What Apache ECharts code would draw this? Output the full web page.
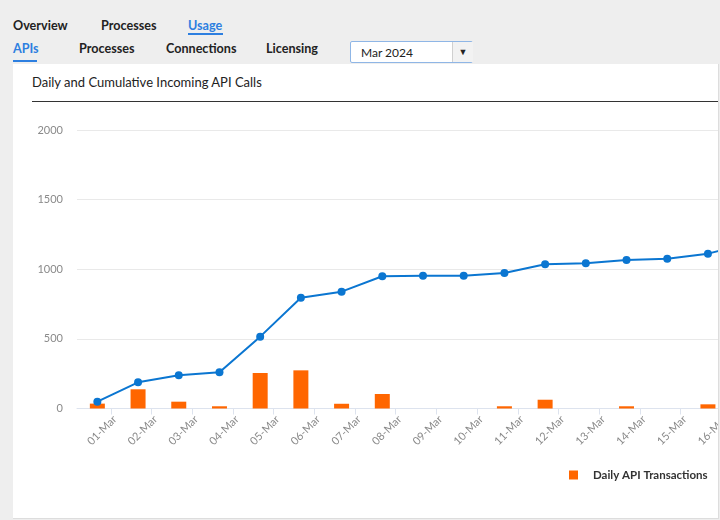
<!DOCTYPE html>
<html>
<head>
<meta charset="utf-8">
<script src="https://cdn.jsdelivr.net/npm/echarts@6/dist/echarts.min.js"></script>
<style>
  html, body { margin: 0; padding: 0; background: #eeeeee; font-family: Lato, "Noto Sans", sans-serif; }
  #page { position: relative; width: 720px; height: 520px; overflow: hidden; }
  .tab { position: absolute; font-size: 12.6px; font-weight: bold; color: #222; line-height: 16px; }
  .tab.on { color: #2d7fe0; }
  .bar-on { position: absolute; height: 2px; background: #2d7fe0; }
  #month { position: absolute; left: 350px; top: 41px; width: 121px; height: 20px; background: #fff;
           border: 1px solid #8fb6e6; border-radius: 2px; font-size: 12px; color: #222; }
  #month span { position: absolute; left: 10px; top: 3px; }
  #month .drop { position: absolute; left: 101px; top: 0; width: 20px; height: 20px; background: #f2f2f2;
                 border-left: 1px solid #d0d0d0; font-size: 9px; text-align: center; line-height: 20px; color: #222; }
  #card { position: absolute; left: 13px; top: 64px; width: 705px; height: 454px; background: #fff;
          overflow: hidden; border-right: 1px solid #dddddd; border-bottom: 1px solid #dddddd; }
  #card .title { position: absolute; left: 19px; top: 10px; font-size: 13px; color: #222; }
  #card .rule { position: absolute; left: 19px; top: 37px; width: 700px; height: 1px; background: #333; }
  #chart { position: absolute; left: 0; top: 38px; width: 1000px; height: 416px; }
</style>
</head>
<body>
<div id="page">
  <div class="tab" style="left:13px;top:18px;">Overview</div>
  <div class="tab" style="left:101px;top:18px;">Processes</div>
  <div class="tab on" style="left:188px;top:18px;">Usage</div>
  <div class="bar-on" style="left:188px;top:33px;width:35px;"></div>
  <div class="tab on" style="left:13px;top:41px;">APIs</div>
  <div class="bar-on" style="left:13px;top:60px;width:24px;"></div>
  <div class="tab" style="left:79px;top:41px;">Processes</div>
  <div class="tab" style="left:166px;top:41px;">Connections</div>
  <div class="tab" style="left:266px;top:41px;">Licensing</div>
  <div id="month"><span>Mar 2024</span><div class="drop">&#9660;</div></div>
  <div id="card">
    <div class="title">Daily and Cumulative Incoming API Calls</div>
    <div class="rule"></div>
    <div id="chart"></div>
  </div>
</div>
<script>
// days of March shown (the chart is wider than the card and gets cut at the right)
var days = ['01-Mar', '02-Mar', '03-Mar', '04-Mar', '05-Mar', '06-Mar', '07-Mar', '08-Mar', '09-Mar',
            '10-Mar', '11-Mar', '12-Mar', '13-Mar', '14-Mar', '15-Mar', '16-Mar', '17-Mar'];
var dailyCalls = [35, 138, 49, 16, 255, 274, 34, 104, 0, 0, 16, 63, 0, 16, 0, 30, 70];
var cumulativeCalls = [49, 188, 238, 260, 516, 796, 839, 950, 954, 954, 973, 1036, 1043, 1067, 1076, 1112, 1185];
var yTicks = [0, 500, 1000, 1500, 2000];

var font = 'Lato, "Noto Sans", sans-serif';
var axisGrey = '#dde3ee';

// tick marks and labels sit a bit right of the category centres, like the original
var tickPos = days.map(function (d, i) { return i + 0.33; });
var labelPos = days.map(function (d, i) { return i + 0.43; });

var myChart = echarts.init(document.getElementById('chart'));
var option = {
  animation: false,
  textStyle: { fontFamily: font },
  grid: { left: 64, top: 28, width: 692, height: 278.5, containLabel: false },
  legend: {
    data: ['Daily API Transactions'],
    left: 551, top: 362,
    icon: 'rect', itemWidth: 9, itemHeight: 9,
    textStyle: { fontFamily: font, fontSize: 11.5, fontWeight: 'bold', color: '#333', padding: [0, 0, 0, 10] }
  },
  xAxis: [
    {
      type: 'category',
      data: days,
      show: false,
      boundaryGap: true
    },
    {
      type: 'value',
      position: 'bottom',
      min: -0.5,
      max: days.length - 0.5,
      splitLine: { show: false },
      axisLine: { show: true, onZero: false, lineStyle: { color: axisGrey, width: 1 } },
      axisTick: { show: true, length: 6, lineStyle: { color: axisGrey }, customValues: tickPos },
      axisLabel: {
        customValues: labelPos,
        rotate: 45, margin: 9,
        color: '#8a8a8a', fontSize: 11, fontFamily: font,
        formatter: function (v) { return days[Math.floor(v)]; }
      }
    }
  ],
  yAxis: {
    type: 'value',
    min: yTicks[0], max: yTicks[yTicks.length - 1], interval: 500,
    axisLine: { show: false },
    axisTick: { show: false },
    splitLine: { lineStyle: { color: '#e9e9e9' } },
    axisLabel: {
      color: '#8a8a8a', fontSize: 11, margin: 14, fontFamily: font,
      formatter: function (v) { return String(v); }
    }
  },
  series: [
    {
      name: 'Daily API Transactions',
      type: 'bar',
      xAxisIndex: 0,
      barWidth: 15,
      data: dailyCalls,
      itemStyle: { color: '#ff6600' }
    },
    {
      name: 'Cumulative API Transactions',
      type: 'line',
      xAxisIndex: 0,
      data: cumulativeCalls,
      symbol: 'circle',
      symbolSize: 8,
      lineStyle: { color: '#0b76d1', width: 2 },
      itemStyle: { color: '#0b76d1' },
      z: 3
    }
  ]
};
myChart.setOption(option);
</script>
</body>
</html>
